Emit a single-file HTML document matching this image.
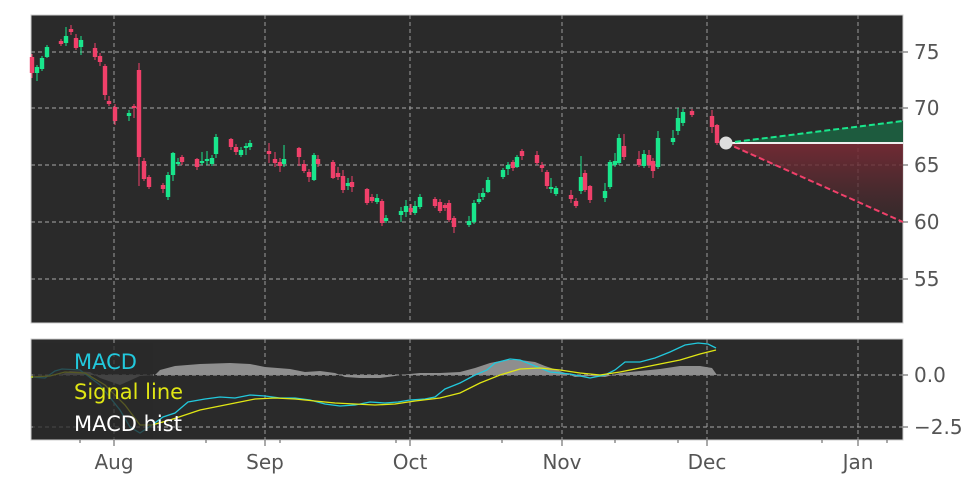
<!DOCTYPE html>
<html><head><meta charset="utf-8"><style>
html,body{margin:0;padding:0;background:#fff;}
svg text{font-family:"DejaVu Sans","Liberation Sans",sans-serif;}
</style></head><body>
<svg id="s" width="972" height="486" xmlns="http://www.w3.org/2000/svg">
<defs>
<linearGradient id="gr" x1="0" y1="0" x2="0" y2="1"><stop offset="0" stop-color="#7a2a35" stop-opacity="0.9"/><stop offset="1" stop-color="#3a2a2c" stop-opacity="0.6"/></linearGradient>
</defs>
<rect x="31" y="15" width="872" height="308" fill="#2a2a2a" stroke="#cfcfcf"/>
<rect x="31" y="339" width="872" height="101" fill="#2a2a2a" stroke="#cfcfcf"/>
<g id="grid" stroke="#a8a8a8" stroke-dasharray="4,3" stroke-width="0.9"></g>
<polygon points="726,143 903,121 903,143" fill="#1d5b3e"/>
<polygon points="726,143 903,222 903,143" fill="url(#gr)"/>
<g id="hist"></g>
<g id="c"></g>
<line x1="726" y1="143" x2="903" y2="143" stroke="#eee" stroke-width="2"/>
<line x1="726" y1="143" x2="903" y2="121" stroke="#19e68c" stroke-width="2" stroke-dasharray="6,3"/>
<line x1="726" y1="143" x2="903" y2="222" stroke="#f0406a" stroke-width="2" stroke-dasharray="6,3"/>
<circle cx="726" cy="143" r="6.5" fill="#ddd"/>
<polyline id="macd" fill="none" stroke="#22c8dc" stroke-width="1.3"/>
<polyline id="sig" fill="none" stroke="#e0e614" stroke-width="1.3"/>
<rect x="33" y="343" width="120" height="96" fill="#2a2a2a" fill-opacity="0.75"/>
<text x="74" y="369" font-size="21" fill="#22c8dc">MACD</text>
<text x="74" y="399" font-size="21" fill="#e0e614">Signal line</text>
<text x="74" y="431" font-size="21" fill="#fff">MACD hist</text>
<g id="ax" font-size="20" fill="#555"></g>
</svg>
<script>
const NS="http://www.w3.org/2000/svg";
function el(p,t,a,txt){const e=document.createElementNS(NS,t);for(const k in a)e.setAttribute(k,a[k]);if(txt)e.textContent=txt;document.getElementById(p).appendChild(e);}
const vx=[114,265,410,562,707,858];
vx.forEach(x=>{el('grid','line',{x1:x,y1:15,x2:x,y2:323});el('grid','line',{x1:x,y1:339,x2:x,y2:440});});
[52,108,165,222,279].forEach(y=>el('grid','line',{x1:31,y1:y,x2:903,y2:y}));
[375,427].forEach(y=>el('grid','line',{x1:31,y1:y,x2:903,y2:y}));
[["75",52],["70",108],["65",165],["60",222],["55",279]].forEach(([t,y])=>{el('ax','text',{x:914,y:y+7},t);el('ax','line',{x1:903,y1:y,x2:908,y2:y,stroke:"#555"});});
[["0.0",375],["−2.5",427]].forEach(([t,y])=>{el('ax','text',{x:914,y:y+7},t);el('ax','line',{x1:903,y1:y,x2:908,y2:y,stroke:"#555"});});
[["Aug",114],["Sep",265],["Oct",410],["Nov",562],["Dec",707],["Jan",858]].forEach(([t,x])=>{el('ax','text',{x:x,y:469,"text-anchor":"middle"},t);el('ax','line',{x1:x,y1:440,x2:x,y2:446,stroke:"#555"});});
[80,206,280,396,502,615,678,822,887].forEach(x=>el('ax','line',{x1:x,y1:440,x2:x,y2:443,stroke:"#555"}));
const C=[[32,57,73,'r',54,78],[37,67,73,'g',65,81],[42,58,69,'g',56,71],[47,47,57,'g',45,58],[61,41,44,'r',39,46],[66,36,43,'g',27,46],[71,29,32,'r',25,35],[76,38,48,'r',34,50],[81,40,47,'g',36,55],[95,48,57,'r',43,60],[100,56,62,'r',53,66],[105,66,95,'r',64,100],[109,101,104,'r',96,106],[115,107,121,'r',104,125],[129,113,116,'g',110,121],[134,106,108,'r',104,118],[139,70,157,'r',63,186],[144,161,179,'r',158,181],[149,177,187,'r',175,189],[163,185,189,'r',183,193],[168,175,197,'g',172,200],[173,153,175,'g',152,181],[178,162,164,'g',158,166],[182,157,162,'r',155,165],[197,159,167,'r',158,170],[202,161,163,'g',152,165],[207,159,161,'g',151,165],[212,158,164,'g',155,166],[216,137,154,'g',134,158],[231,139,147,'r',138,150],[236,147,152,'r',144,155],[241,150,155,'g',147,157],[246,146,148,'g',143,155],[250,143,147,'g',140,150],[269,151,154,'r',143,163],[275,159,163,'r',152,167],[280,162,166,'r',158,172],[284,159,164,'g',145,167],[299,148,157,'r',147,166],[304,164,171,'r',160,173],[309,172,177,'r',169,182],[314,155,180,'g',153,181],[318,159,164,'r',155,167],[333,162,178,'r',160,179],[338,173,177,'r',167,180],[343,176,190,'r',170,193],[348,183,186,'g',178,190],[352,182,187,'r',176,192],[367,189,203,'r',188,205],[372,197,201,'r',194,203],[377,198,202,'g',194,204],[382,201,223,'r',199,226],[386,218,221,'g',215,223],[401,211,215,'g',207,222],[406,206,212,'g',200,217],[411,208,212,'r',204,215],[415,206,213,'g',201,215],[420,197,207,'g',194,209],[435,199,206,'r',197,208],[440,202,211,'r',199,213],[445,205,208,'r',203,211],[449,203,220,'r',200,222],[454,218,227,'r',216,233],[469,221,225,'g',216,227],[474,203,222,'g',200,224],[479,199,202,'g',193,204],[483,193,197,'g',188,200],[488,180,192,'g',177,193],[503,170,177,'g',168,179],[508,165,169,'g',162,175],[513,162,168,'r',160,171],[517,157,167,'g',155,168],[522,151,156,'r',149,160],[537,155,163,'r',151,165],[542,165,168,'r',162,172],[547,172,186,'r',170,189],[551,187,189,'g',178,193],[556,188,194,'g',186,196],[571,195,199,'r',190,203],[576,201,206,'r',198,208],[581,177,191,'g',156,194],[585,173,190,'r',170,192],[590,186,200,'r',185,203],[605,191,198,'g',183,202],[610,162,187,'g',160,189],[615,161,165,'g',153,167],[619,138,163,'g',134,165],[624,146,157,'r',134,160],[639,159,165,'r',151,167],[644,154,166,'g',150,168],[649,155,165,'r',150,168],[653,161,171,'r',158,178],[658,138,167,'g',131,169],[673,138,142,'g',130,145],[678,118,131,'g',108,135],[683,112,123,'g',109,126],[692,111,115,'r',109,117],[712,116,127,'r',110,133],[717,125,143,'r',124,145]];
C.forEach(([x,t,b,c,wt,wb])=>{const col=c=='g'?'#19e68c':'#f0406a';el('c','line',{x1:x,y1:wt,x2:x,y2:wb,stroke:col,"stroke-width":1});el('c','rect',{x:x-2.2,y:t,width:4.4,height:Math.max(b-t,2),fill:col});});
document.getElementById('macd').setAttribute('points',"31,377 45,378 55,371 62,369 80,370 100,385 120,410 130,427 140,433 152,425 163,417 175,413 188,402 205,399 220,397 235,398 250,395 265,396 280,398 295,398 310,400 325,404 340,406 355,405 370,402 385,403 398,402 410,400 425,399 435,397 445,389 460,383 475,375 487,370 495,363 510,359 520,360 535,366 550,372 570,374 590,378 605,375 615,370 625,362 640,362 655,358 670,352 685,345 698,343 708,344 716,348");
document.getElementById('sig').setAttribute('points',"31,377 50,376 65,372 85,373 105,385 125,405 140,425 152,425 170,420 185,415 200,410 215,407 235,403 255,399 275,398 295,399 315,401 335,403 355,404 375,405 395,404 415,401 440,398 460,393 480,383 500,375 520,369 540,368 560,370 580,373 600,375 620,372 640,368 660,364 680,360 700,354 716,350");
el('hist','polygon',{points:"31,375 60,375 70,371 90,372 100,378 120,385 140,376 155,375 160,370 175,366 200,364 230,363 250,364 265,367 290,369 305,372 320,371 335,373 345,377 360,378 380,378 395,376 400,375 420,373 440,373 460,372 475,368 490,363 505,360 520,360 535,362 545,366 560,371 575,377 590,376 605,377 620,373 640,371 660,369 680,366 700,366 712,368 717,375",fill:"#8e8e8e"});
</script>
</body></html>
